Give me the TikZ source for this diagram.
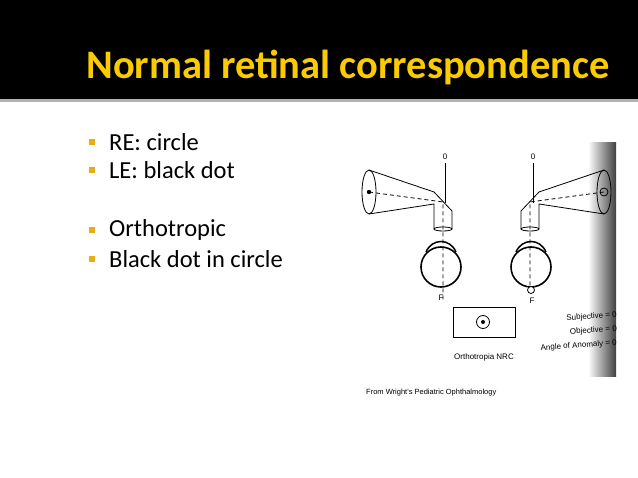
\documentclass[tikz,border=0pt]{standalone}
\usepackage{fontspec}
\setmainfont{Carlito}
\newfontfamily\arialf{Liberation Sans}
\definecolor{titley}{RGB}{250,204,0}
\definecolor{bull}{RGB}{236,170,20}
\begin{document}
\begin{tikzpicture}[x=1pt,y=-1pt,
  bul/.style={fill=bull,minimum size=6pt,inner sep=0pt},
  btxt/.style={anchor=west,font=\fontsize{24.5}{26}\selectfont,inner sep=0pt},
  ln/.style={line width=0.8pt},
  dsh/.style={line width=0.8pt,dash pattern=on 4pt off 3pt},
  sm/.style={font=\arialf\fontsize{8}{9}\selectfont,inner sep=0pt}]
\useasboundingbox (0,0) rectangle (638,478);
\fill[black] (0,0) rectangle (638,99);
\fill[gray!60] (0,99) rectangle (638,102);
\node[font=\bfseries\fontsize{40.5}{44}\selectfont,text=titley,anchor=base] (title) at (348,79) {Normal retinal correspondence};
% bullets
\foreach \y/\t [count=\i] in {142/RE: circle,170/LE: black dot,230/Orthotropic,259/Black dot in circle}{
  \node[bul] (b\i) at (92,\y) {};
  \node[btxt] (t\i) at (109,\y) {\t};
}
% photo
\shade[left color=white,right color=black!75] (588,143) rectangle (616,377);
% left periscope
\draw[ln] (369,192) ellipse (7 and 22);
\fill (369,192) circle (2.2);
\draw[ln] (369,170) -- (434,192) -- (452,211) -- (452,229);
\draw[ln] (369,214) -- (434,204) -- (434,229);
\draw[ln] (443,229) ellipse (9 and 2);
\draw[dsh] (369,192) -- (443,202) -- (443,300);
\draw[ln] (445,163) -- (445,203);
\node[sm] (o1) at (445,157) {0};
\draw[line width=1.6pt] (441,267) circle (20);
\draw[line width=1.5pt] (426,252) .. controls (432,238) and (450,238) .. (456,252);
\node[sm] (f1) at (441,298) {F};
% right periscope
\draw[ln] (604,192) ellipse (7 and 22);
\draw[ln] (604,192) circle (4);
\draw[ln] (604,170) -- (539,192) -- (521,211) -- (521,229);
\draw[ln] (604,214) -- (539,204) -- (539,229);
\draw[ln] (530,229) ellipse (9 and 2);
\draw[dsh] (604,192) -- (530,202) -- (530,287);
\draw[ln] (533,163) -- (533,203);
\node[sm] (o2) at (533,157) {0};
\draw[line width=1.6pt] (531,267) circle (20);
\draw[line width=1.5pt] (516,252) .. controls (522,238) and (540,238) .. (546,252);
\draw[ln,fill=white] (531,290) circle (3.5);
\node[sm] (f2) at (532,301) {F};
% box
\draw[ln] (453,307) rectangle (515,337);
\draw[ln] (483,322) circle (6.5);
\fill (483,322) circle (2);
\node[sm] (cap) at (484,357) {Orthotropia NRC};
\node[sm,anchor=east,rotate=4] (s1) at (617,315) {Subjective = 0};
\node[sm,anchor=east,rotate=4] (s2) at (617,329) {Objective = 0};
\node[sm,anchor=east,rotate=4] (s3) at (617,343) {Angle of Anomaly = 0};
\node[sm,anchor=west,font=\arialf\fontsize{7.5}{8}\selectfont] (cred) at (366,393) {From Wright's Pediatric Ophthalmology};
\end{tikzpicture}
\end{document}
